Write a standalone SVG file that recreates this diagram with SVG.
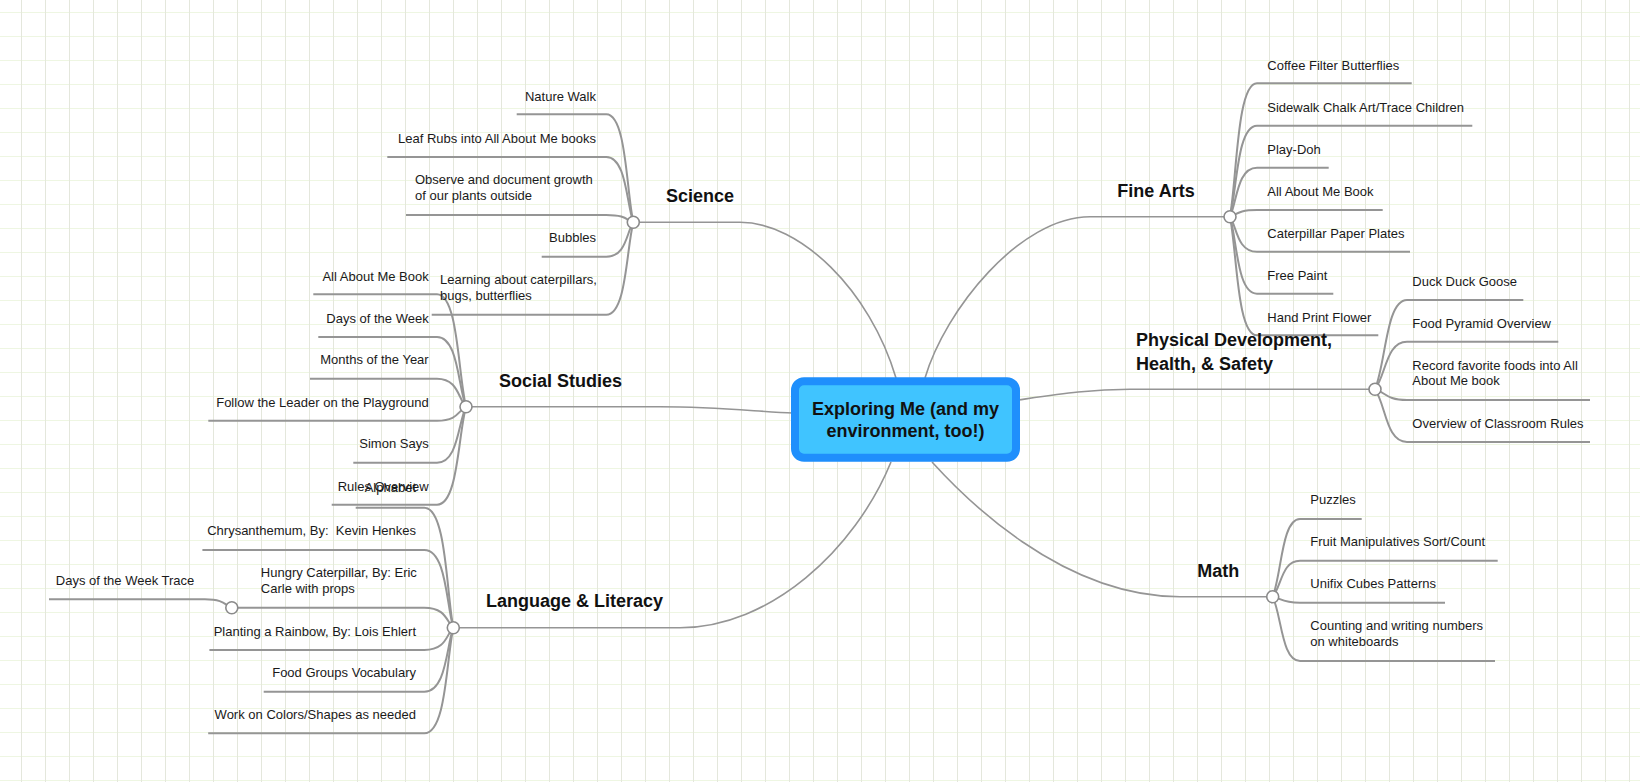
<svg xmlns="http://www.w3.org/2000/svg" width="1640" height="782" viewBox="0 0 1640 782">
<defs>
<pattern id="grid" width="24" height="24" patternUnits="userSpaceOnUse">
<rect x="0" y="12" width="24" height="1" fill="#eef6e2"/>
<rect x="21" y="0" width="1" height="24" fill="#e4e7dc"/>
</pattern>
<style>
.main{fill:none;stroke:#959595;stroke-width:1.6}
.sub{fill:none;stroke:#959595;stroke-width:2}
.hub{fill:#fff;stroke:#8a8a8a;stroke-width:1.6}
.t{font-family:"Liberation Sans",Arial,sans-serif;font-size:13px;fill:#1a1a1a}
.e{text-anchor:end}
.b{font-family:"Liberation Sans",Arial,sans-serif;font-size:18px;font-weight:bold;fill:#111}
.c{font-family:"Liberation Sans",Arial,sans-serif;font-size:18px;font-weight:bold;fill:#111;text-anchor:middle}
</style>
</defs>
<rect width="1640" height="782" fill="#fff"/>
<rect width="1640" height="782" fill="url(#grid)"/>

<g id="connectors">
<path class="main" d="M633.3 222.3 H740 C800 222.3 870 290 896 378"/>
<path class="main" d="M1230 216.7 H1090 C1020 216.7 945 310 925 378"/>
<path class="main" d="M466 406.7 H660 C720 406.7 760 412 793 413"/>
<path class="main" d="M1375 389.3 H1130 C1090 389.3 1060 394 1018 400"/>
<path class="main" d="M453.3 627.7 H680 C770 627.7 855 550 891 462"/>
<path class="main" d="M1272.7 596.7 H1180 C1060 596.7 962 495 932 462"/>

<path class="sub" d="M633.3 222.3 C626.3 189.9 626.3 114.3 606.3 114.3 H516.7"/>
<path class="sub" d="M633.3 222.3 C626.3 202.7 626.3 157 606.3 157 H387.3"/>
<path class="sub" d="M633.3 222.3 C626.3 220.1 626.3 215 606.3 215 H406"/>
<path class="sub" d="M633.3 222.3 C626.3 232.6 626.3 256.7 606.3 256.7 H541.7"/>
<path class="sub" d="M633.3 222.3 C626.3 250 626.3 314.7 606.3 314.7 H431.7"/>

<path class="sub" d="M466 406.7 C458 373 458 294.3 437 294.3 H313.3"/>
<path class="sub" d="M466 406.7 C458 385.8 458 337 437 337 H318.3"/>
<path class="sub" d="M466 406.7 C458 398.3 458 378.7 437 378.7 H310"/>
<path class="sub" d="M466 406.7 C458 410.9 458 420.7 437 420.7 H208.3"/>
<path class="sub" d="M466 406.7 C458 423.5 458 462.7 437 462.7 H353.3"/>
<path class="sub" d="M466 406.7 C458 436.1 458 504.7 437 504.7 H331.7"/>

<path class="sub" d="M453.3 627.7 C446.3 591.7 446.3 507.7 424.3 507.7 H355.7"/>
<path class="sub" d="M453.3 627.7 C446.3 604.4 446.3 550 424.3 550 H202.4"/>
<path class="sub" d="M453.3 627.7 C446.3 621.7 446.3 607.7 424.3 607.7 H231.8"/>
<path class="sub" d="M453.3 627.7 C446.3 634.4 446.3 650 424.3 650 H209.4"/>
<path class="sub" d="M453.3 627.7 C446.3 646.9 446.3 691.7 424.3 691.7 H263.7"/>
<path class="sub" d="M453.3 627.7 C446.3 659.4 446.3 733.3 424.3 733.3 H208.2"/>
<path class="sub" d="M231.8 607.7 C224.8 605.2 224.8 599.3 204.8 599.3 H49"/>

<path class="sub" d="M1230 216.7 C1237 176.7 1237 83.3 1257 83.3 H1411.7"/>
<path class="sub" d="M1230 216.7 C1237 189.4 1237 125.7 1257 125.7 H1472.3"/>
<path class="sub" d="M1230 216.7 C1237 202 1237 167.7 1257 167.7 H1328.7"/>
<path class="sub" d="M1230 216.7 C1237 214.7 1237 210 1257 210 H1382.7"/>
<path class="sub" d="M1230 216.7 C1237 227.2 1237 251.7 1257 251.7 H1410"/>
<path class="sub" d="M1230 216.7 C1237 239.8 1237 293.7 1257 293.7 H1333.3"/>
<path class="sub" d="M1230 216.7 C1237 252.3 1237 335.3 1257 335.3 H1378.3"/>

<path class="sub" d="M1375 389.3 C1386 362.5 1386 300 1407 300 H1523.3"/>
<path class="sub" d="M1375 389.3 C1386 375 1386 341.7 1407 341.7 H1558.3"/>
<path class="sub" d="M1375 389.3 C1386 392.5 1386 400 1407 400 H1590"/>
<path class="sub" d="M1375 389.3 C1386 405.1 1386 442 1407 442 H1590"/>

<path class="sub" d="M1272.7 596.7 C1281.7 573.4 1281.7 519 1300 519 H1361.7"/>
<path class="sub" d="M1272.7 596.7 C1281.7 585.9 1281.7 560.7 1300 560.7 H1497.7"/>
<path class="sub" d="M1272.7 596.7 C1281.7 598.5 1281.7 602.7 1300 602.7 H1445"/>
<path class="sub" d="M1272.7 596.7 C1281.7 616 1281.7 661 1300 661 H1495"/>

<circle class="hub" cx="633.3" cy="222.3" r="6"/>
<circle class="hub" cx="466" cy="406.7" r="6"/>
<circle class="hub" cx="453.3" cy="627.7" r="6"/>
<circle class="hub" cx="231.8" cy="607.7" r="6"/>
<circle class="hub" cx="1230" cy="216.7" r="6"/>
<circle class="hub" cx="1375" cy="389.3" r="6"/>
<circle class="hub" cx="1272.7" cy="596.7" r="6"/>
</g>

<g id="central">
<rect x="795" y="381.3" width="221" height="76.4" rx="9" fill="#40c4ff" stroke="#1f8ffc" stroke-width="8"/>
<text class="c" x="905.6" y="414.5">Exploring Me (and my</text>
<text class="c" x="905.6" y="437">environment, too!)</text>
</g>

<g id="science"><text class="b" x="666" y="202.3">Science</text></g>
<g id="sci-1"><text class="t e" x="596" y="100.7">Nature Walk</text></g>
<g id="sci-2"><text class="t e" x="596" y="142.7">Leaf Rubs into All About Me books</text></g>
<g id="sci-3"><text class="t" x="415" y="184">Observe and document growth</text><text class="t" x="415" y="200">of our plants outside</text></g>
<g id="sci-4"><text class="t e" x="596" y="242.3">Bubbles</text></g>
<g id="sci-5"><text class="t" x="440" y="284.3">Learning about caterpillars,</text><text class="t" x="440" y="300">bugs, butterflies</text></g>

<g id="social"><text class="b" x="499" y="386.7">Social Studies</text></g>
<g id="soc-1"><text class="t e" x="428.7" y="280.7">All About Me Book</text></g>
<g id="soc-2"><text class="t e" x="428.7" y="322.7">Days of the Week</text></g>
<g id="soc-3"><text class="t e" x="428.7" y="364.3">Months of the Year</text></g>
<g id="soc-4"><text class="t e" x="428.7" y="406.7">Follow the Leader on the Playground</text></g>
<g id="soc-5"><text class="t e" x="428.7" y="448.3">Simon Says</text></g>
<g id="soc-6"><text class="t e" x="428.7" y="490.7">Rules Overview</text></g>

<g id="language"><text class="b" x="486" y="607.3">Language &amp; Literacy</text></g>
<g id="lang-1"><text class="t e" x="416" y="492.3">Alphabet</text></g>
<g id="lang-2"><text class="t e" x="416" y="535" xml:space="preserve">Chrysanthemum, By:  Kevin Henkes</text></g>
<g id="lang-3"><text class="t" x="260.8" y="577.3">Hungry Caterpillar, By: Eric</text><text class="t" x="260.8" y="592.7">Carle with props</text></g>
<g id="lang-3-1"><text class="t e" x="194.3" y="585">Days of the Week Trace</text></g>
<g id="lang-4"><text class="t e" x="416" y="635.7">Planting a Rainbow, By: Lois Ehlert</text></g>
<g id="lang-5"><text class="t e" x="416" y="677.3">Food Groups Vocabulary</text></g>
<g id="lang-6"><text class="t e" x="416" y="719.3">Work on Colors/Shapes as needed</text></g>

<g id="finearts"><text class="b" x="1117.3" y="196.7">Fine Arts</text></g>
<g id="fa-1"><text class="t" x="1267.3" y="70">Coffee Filter Butterflies</text></g>
<g id="fa-2"><text class="t" x="1267.3" y="112">Sidewalk Chalk Art/Trace Children</text></g>
<g id="fa-3"><text class="t" x="1267.3" y="154">Play-Doh</text></g>
<g id="fa-4"><text class="t" x="1267.3" y="196">All About Me Book</text></g>
<g id="fa-5"><text class="t" x="1267.3" y="238">Caterpillar Paper Plates</text></g>
<g id="fa-6"><text class="t" x="1267.3" y="280">Free Paint</text></g>
<g id="fa-7"><text class="t" x="1267.3" y="322">Hand Print Flower</text></g>

<g id="physical"><text class="b" x="1136" y="346">Physical Development,</text><text class="b" x="1136" y="370">Health, &amp; Safety</text></g>
<g id="phy-1"><text class="t" x="1412.3" y="285.7">Duck Duck Goose</text></g>
<g id="phy-2"><text class="t" x="1412.3" y="327.7">Food Pyramid Overview</text></g>
<g id="phy-3"><text class="t" x="1412.3" y="369.7">Record favorite foods into All</text><text class="t" x="1412.3" y="385">About Me book</text></g>
<g id="phy-4"><text class="t" x="1412.3" y="427.7">Overview of Classroom Rules</text></g>

<g id="math"><text class="b" x="1197.3" y="576.7">Math</text></g>
<g id="math-1"><text class="t" x="1310.3" y="504.3">Puzzles</text></g>
<g id="math-2"><text class="t" x="1310.3" y="546.3">Fruit Manipulatives Sort/Count</text></g>
<g id="math-3"><text class="t" x="1310.3" y="588.3">Unifix Cubes Patterns</text></g>
<g id="math-4"><text class="t" x="1310.3" y="630">Counting and writing numbers</text><text class="t" x="1310.3" y="645.7">on whiteboards</text></g>
</svg>
